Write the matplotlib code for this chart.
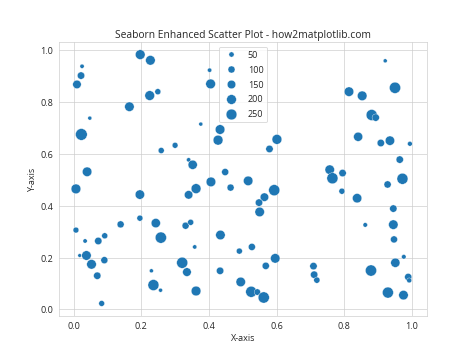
import matplotlib
matplotlib.use("Agg")
import matplotlib.pyplot as plt
import seaborn as sns

# point positions
x = [0.197, 0.227, 0.025, 0.022, 0.010, 0.225, 0.249, 0.165, 0.048, 0.023,
     0.259, 0.300, 0.340, 0.352, 0.040, 0.402, 0.405, 0.376, 0.433, 0.427,
     0.601, 0.579, 0.921, 0.814, 0.853, 0.950, 0.881, 0.893, 0.841, 0.908,
     0.935, 0.994, 0.964, 0.757, 0.795, 0.007, 0.196, 0.340, 0.007, 0.139,
     0.196, 0.243, 0.258, 0.331, 0.346, 0.358, 0.034, 0.073, 0.092, 0.018,
     0.038, 0.053, 0.091, 0.070, 0.083, 0.230, 0.236, 0.257, 0.321, 0.335,
     0.362, 0.448, 0.406, 0.362, 0.464, 0.516, 0.593, 0.564, 0.548, 0.550,
     0.434, 0.490, 0.527, 0.596, 0.568, 0.433, 0.494, 0.525, 0.543, 0.562,
     0.709, 0.711, 0.719, 0.765, 0.793, 0.838, 0.928, 0.972, 0.945, 0.945,
     0.862, 0.947, 0.976, 0.951, 0.879, 0.989, 0.992, 0.929, 0.975]
y = [0.983, 0.961, 0.938, 0.902, 0.868, 0.825, 0.840, 0.782, 0.738, 0.675,
     0.613, 0.633, 0.577, 0.558, 0.531, 0.923, 0.870, 0.715, 0.694, 0.653,
     0.656, 0.619, 0.959, 0.840, 0.824, 0.855, 0.750, 0.740, 0.666, 0.642,
     0.651, 0.639, 0.578, 0.539, 0.526, 0.465, 0.443, 0.442, 0.306, 0.328,
     0.352, 0.333, 0.277, 0.323, 0.336, 0.241, 0.264, 0.264, 0.284, 0.208,
     0.208, 0.174, 0.190, 0.130, 0.023, 0.149, 0.094, 0.074, 0.180, 0.144,
     0.071, 0.530, 0.492, 0.466, 0.470, 0.496, 0.460, 0.433, 0.412, 0.376,
     0.287, 0.225, 0.241, 0.197, 0.168, 0.149, 0.106, 0.068, 0.067, 0.046,
     0.167, 0.134, 0.113, 0.506, 0.456, 0.429, 0.482, 0.504, 0.389, 0.327,
     0.326, 0.270, 0.203, 0.180, 0.150, 0.125, 0.112, 0.065, 0.055]
sizes = [200, 195, 30, 110, 150, 200, 70, 190, 25, 295,
         70, 65, 30, 180, 190, 30, 200, 25, 195, 205,
         205, 110, 25, 190, 195, 270, 260, 110, 175, 110,
         185, 40, 110, 190, 110, 200, 185, 150, 65, 100,
         70, 180, 270, 100, 70, 30, 30, 110, 70, 20,
         190, 195, 100, 110, 65, 25, 260, 25, 265, 155,
         200, 100, 195, 205, 100, 190, 265, 150, 110, 190,
         190, 70, 100, 190, 105, 110, 190, 260, 80, 270,
         110, 110, 75, 265, 70, 185, 105, 260, 110, 190,
         35, 100, 35, 180, 270, 105, 45, 260, 190]

sns.set_style("whitegrid")
plt.rcParams['font.family'] = ['Open Sans', 'DejaVu Sans']
plt.rcParams['xtick.labelsize'] = 11
plt.rcParams['ytick.labelsize'] = 11
plt.rcParams['axes.labelsize'] = 11

fig = plt.figure(figsize=(8, 6), dpi=474 / 8)
ax = sns.scatterplot(x=x, y=y, size=sizes, sizes=(20, 200))
ax.legend(loc="upper center", fontsize=11, labelspacing=0.65)
plt.title("Seaborn Enhanced Scatter Plot - how2matplotlib.com", fontsize=12.4)
plt.xlabel("X-axis")
plt.ylabel("Y-axis")
plt.savefig("out.png", dpi=474 / 8)
